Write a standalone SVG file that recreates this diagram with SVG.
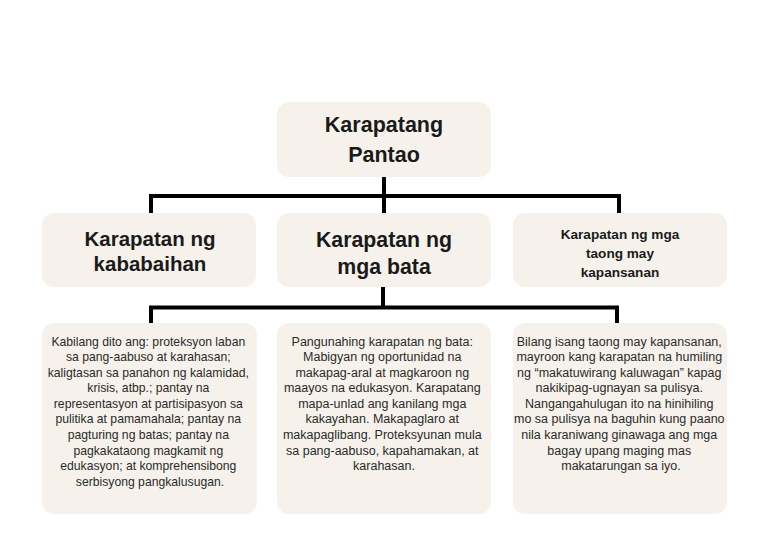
<svg xmlns="http://www.w3.org/2000/svg" width="768" height="544" viewBox="0 0 768 544">
<style>
.box{fill:#f6f2eb;}
.t{font-family:"Liberation Sans",Arial,sans-serif;font-weight:bold;fill:#1a1a1a;text-anchor:middle;}
.b{font-family:"Liberation Sans",Arial,sans-serif;fill:#2a2a2a;text-anchor:middle;}
.c{fill:none;stroke:#000;stroke-width:4;stroke-linecap:square;stroke-linejoin:miter;}
</style>
<rect width="768" height="544" fill="#ffffff"/>
<g id="connectors">
<path class="c" d="M384 178 V196 M151 213 V196 H619 V213 M384 196 V213"/>
<path class="c" d="M383 288 V307.5 M151 322 V307.5 H617 V322"/>
</g>
<g id="root">
<rect class="box" x="277" y="102" width="214" height="75" rx="12"/>
<text class="t" x="384" y="131.5" font-size="21.5">Karapatang</text>
<text class="t" x="384" y="161.5" font-size="21.5">Pantao</text>
</g>
<g id="women">
<rect class="box" x="42" y="213" width="214" height="74" rx="12"/>
<text class="t" x="150" y="246" font-size="20.5">Karapatan ng</text>
<text class="t" x="150" y="271" font-size="20.5">kababaihan</text>
</g>
<g id="children">
<rect class="box" x="277" y="213" width="214" height="74" rx="12"/>
<text class="t" x="384" y="247" font-size="21.3">Karapatan ng</text>
<text class="t" x="384" y="274" font-size="21.3">mga bata</text>
</g>
<g id="pwd">
<rect class="box" x="513" y="213" width="214" height="74" rx="12"/>
<text class="t" x="620" y="239.3" font-size="13.6">Karapatan ng mga</text>
<text class="t" x="620" y="258" font-size="13.6">taong may</text>
<text class="t" x="620" y="276.7" font-size="13.6">kapansanan</text>
</g>
<g id="women-desc">
<rect class="box" x="42" y="323" width="215" height="191" rx="12"/>
<text class="b" x="150" font-size="12.2">
<tspan x="150" y="345.5">Kabilang dito ang: proteksyon laban</tspan>
<tspan x="150" y="361">sa pang-aabuso at karahasan;</tspan>
<tspan x="150" y="376.6">kaligtasan sa panahon ng kalamidad,</tspan>
<tspan x="150" y="392.2">krisis, atbp.; pantay na</tspan>
<tspan x="150" y="407.8">representasyon at partisipasyon sa</tspan>
<tspan x="150" y="423.4">pulitika at pamamahala; pantay na</tspan>
<tspan x="150" y="439">pagturing ng batas; pantay na</tspan>
<tspan x="150" y="454.6">pagkakataong magkamit ng</tspan>
<tspan x="150" y="470.2">edukasyon; at komprehensibong</tspan>
<tspan x="150" y="485.8">serbisyong pangkalusugan.</tspan>
</text>
</g>
<g id="children-desc">
<rect class="box" x="277" y="323" width="214" height="191" rx="12"/>
<text class="b" x="384" font-size="12.5">
<tspan x="384" y="345.5">Pangunahing karapatan ng bata:</tspan>
<tspan x="384" y="361">Mabigyan ng oportunidad na</tspan>
<tspan x="384" y="376.6">makapag-aral at magkaroon ng</tspan>
<tspan x="384" y="392.2">maayos na edukasyon. Karapatang</tspan>
<tspan x="384" y="407.8">mapa-unlad ang kanilang mga</tspan>
<tspan x="384" y="423.4">kakayahan. Makapaglaro at</tspan>
<tspan x="384" y="439">makapaglibang. Proteksyunan mula</tspan>
<tspan x="384" y="454.6">sa pang-aabuso, kapahamakan, at</tspan>
<tspan x="384" y="470.2">karahasan.</tspan>
</text>
</g>
<g id="pwd-desc">
<rect class="box" x="513" y="323" width="214" height="191" rx="12"/>
<text class="b" x="621" font-size="12.5">
<tspan x="621" y="345.5">Bilang isang taong may kapansanan,</tspan>
<tspan x="621" y="361">mayroon kang karapatan na humiling</tspan>
<tspan x="621" y="376.6">ng “makatuwirang kaluwagan” kapag</tspan>
<tspan x="621" y="392.2">nakikipag-ugnayan sa pulisya.</tspan>
<tspan x="621" y="407.8">Nangangahulugan ito na hinihiling</tspan>
<tspan x="621" y="423.4">mo sa pulisya na baguhin kung paano</tspan>
<tspan x="621" y="439">nila karaniwang ginawaga ang mga</tspan>
<tspan x="621" y="454.6">bagay upang maging mas</tspan>
<tspan x="621" y="470.2">makatarungan sa iyo.</tspan>
</text>
</g>
</svg>
